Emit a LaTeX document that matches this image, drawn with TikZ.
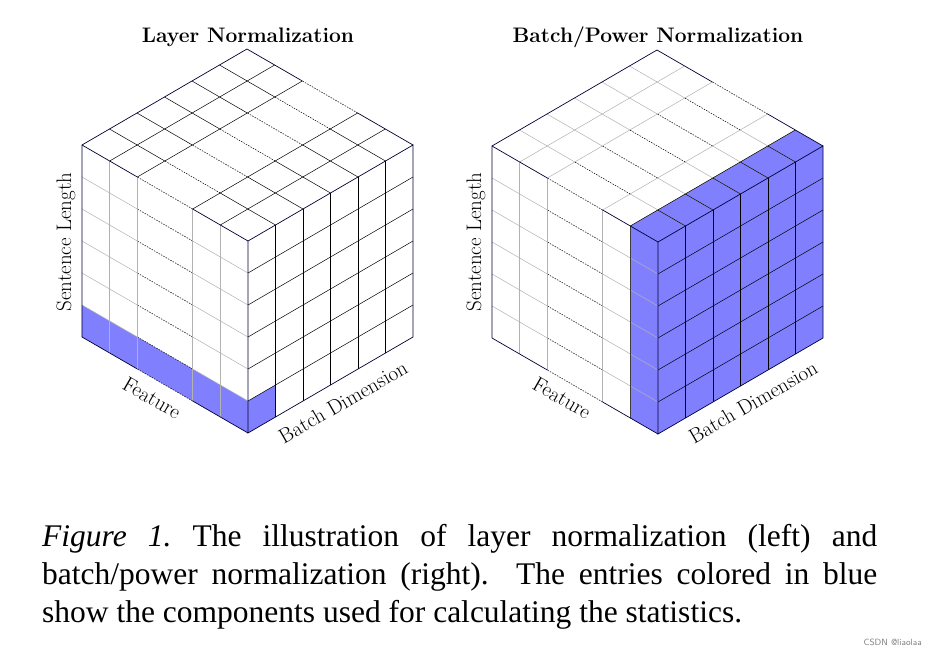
\documentclass[tikz,border=0pt]{standalone}
\usepackage{fontspec}
\newfontfamily\capfont{Liberation Serif}
\tikzset{
  gl/.style={draw=gray!60, line width=0.5pt},
  bl/.style={draw=black, line width=0.5pt},
  dl/.style={draw=black, line width=0.5pt, dash pattern=on 1.5pt off 1.2pt},
  outl/.style={draw=black!80!blue, line width=0.7pt},
  hl/.style={fill=blue!50, draw=none},
  lab/.style={font=\fontsize{21}{23}\selectfont, inner sep=0pt},
  ttl/.style={font=\fontsize{21}{24}\selectfont\bfseries, inner sep=0pt}
}
\newcommand\mygrid[1]{%
  % left face (j=0)
  \foreach \k in {1,...,5}{
    \draw[gl] (0,0,\k) -- (2,0,\k); \draw[dl] (2,0,\k) -- (4,0,\k); \draw[gl] (4,0,\k) -- (6,0,\k);}
  \foreach \i in {1,2,4,5}{ \draw[gl] (\i,0,0) -- (\i,0,6);}
  % right face (i=0)
  \foreach \k in {1,...,5}{ \draw[bl] (0,0,\k) -- (0,6,\k);}
  \foreach \j in {1,...,5}{ \draw[bl] (0,\j,0) -- (0,\j,6);}
  % top face
  \foreach \j in {1,...,5}{
    \draw[#1] (0,\j,6) -- (2,\j,6); \draw[dl] (2,\j,6) -- (4,\j,6); \draw[#1] (4,\j,6) -- (6,\j,6);}
  \foreach \i in {1,2,4,5}{ \draw[#1] (\i,0,6) -- (\i,6,6);}
  % outline (edges along feature dashed in the middle)
  \foreach \j/\k in {0/0,0/6,6/6}{
    \draw[outl] (0,\j,\k) -- (2,\j,\k); \draw[dl] (2,\j,\k) -- (4,\j,\k); \draw[outl] (4,\j,\k) -- (6,\j,\k);}
  \draw[outl] (6,0,0) -- (6,0,6) -- (6,6,6);
  \draw[outl] (0,0,0) -- (0,6,0) -- (0,6,6) -- (0,0,6) -- cycle;
}
\begin{document}
\begin{tikzpicture}[x=1pt,y=1pt]
\useasboundingbox (0,0) rectangle (932,-656);
\fill[white] (0,0) rectangle (932,-656);
% ---------- left cube
\node[ttl] (t1) at (248,-37) {Layer Normalization};
\begin{scope}[shift={(248,-433)}, x={(-27.67pt,16pt)}, y={(27.5pt,16pt)}, z={(0pt,32pt)}]
  \fill[hl] (0,0,0) -- (6,0,0) -- (6,0,1) -- (0,0,1) -- cycle;
  \fill[hl] (0,0,0) -- (0,1,0) -- (0,1,1) -- (0,0,1) -- cycle;
  \mygrid{bl}
\end{scope}
\node[lab, rotate=90] (s1) at (66,-242) {Sentence Length};
\node[lab, rotate=-30] (f1) at (152,-398) {Feature};
\node[lab, rotate=30] (b1) at (343,-402) {Batch Dimension};
% ---------- right cube
\node[ttl] (t2) at (658,-37) {Batch/Power Normalization};
\begin{scope}[shift={(658,-434)}, x={(-27.67pt,16pt)}, y={(27.5pt,16pt)}, z={(0pt,32pt)}]
  \fill[hl] (0,0,0) -- (0,6,0) -- (0,6,6) -- (0,0,6) -- cycle;
  \fill[hl] (0,0,0) -- (1,0,0) -- (1,0,6) -- (0,0,6) -- cycle;
  \fill[hl] (0,0,6) -- (1,0,6) -- (1,6,6) -- (0,6,6) -- cycle;
  \mygrid{gl}
  \draw[bl] (1,0,0) -- (1,0,6) -- (1,6,6);
  \foreach \j in {1,...,5}{ \draw[bl] (0,\j,6) -- (1,\j,6);}
\end{scope}
\node[lab, rotate=90] (s2) at (476,-242) {Sentence Length};
\node[lab, rotate=-30] (f2) at (562,-398) {Feature};
\node[lab, rotate=30] (b2) at (753,-402) {Batch Dimension};
% ---------- caption
\node[anchor=north west, inner sep=0pt, text width=835pt, align=justify,
      font=\capfont\fontsize{31.5}{38}\selectfont] (cap) at (42,-524)
  {\textit{Figure 1.}\ The illustration of layer normalization (left) and\linebreak
   batch/power normalization (right).\ \ The entries colored in blue\linebreak
   show the components used for calculating the statistics.};
\node[anchor=south east, inner sep=0pt, font=\fontsize{9}{10}\selectfont\sffamily, text=gray] (wm) at (922,-646) {CSDN @liaolaa};
\end{tikzpicture}
\end{document}
